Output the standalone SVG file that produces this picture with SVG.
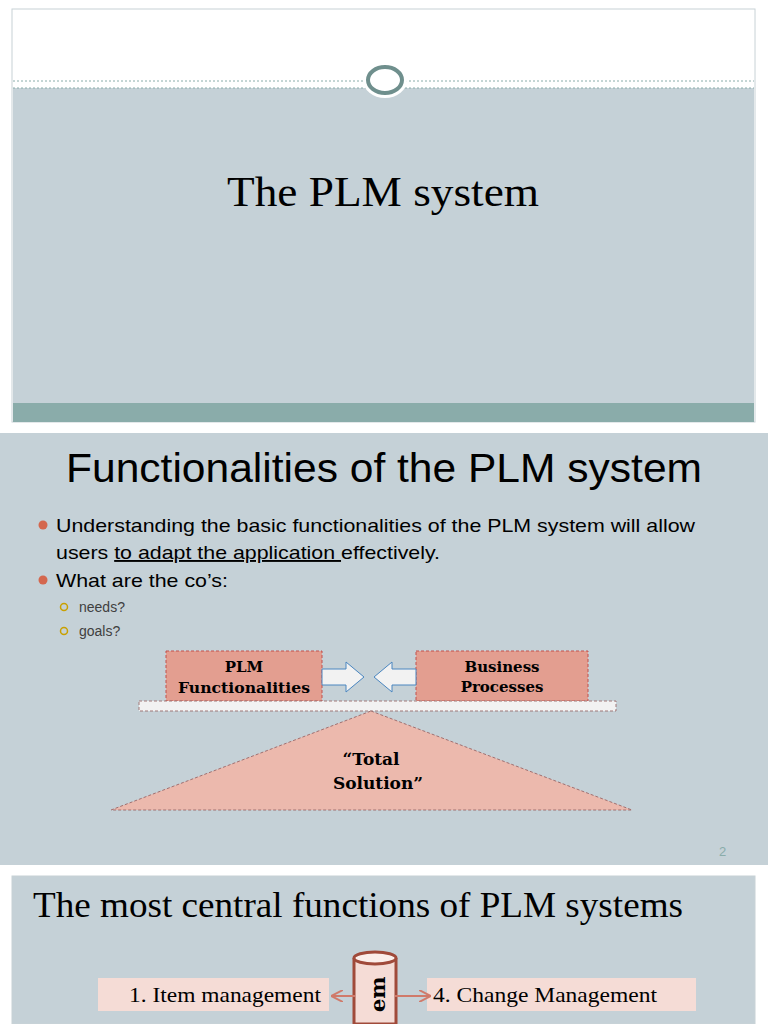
<svg xmlns="http://www.w3.org/2000/svg" width="768" height="1024" viewBox="0 0 768 1024">
<style>
.serif{font-family:"Liberation Serif",serif}
.sans{font-family:"Liberation Sans",Arial,sans-serif}
.bs{font-family:"DejaVu Serif","Liberation Serif",serif;font-weight:bold}
.box{fill:#e39e90;stroke:#c0504d;stroke-dasharray:3,2;stroke-width:1}
</style>
<defs>
<marker id="ah" markerWidth="6" markerHeight="6" refX="5" refY="3" orient="auto"><path d="M0,0L6,3L0,6" fill="none" stroke="#d07a6a"/></marker>
</defs>
<rect width="768" height="1024" fill="#ffffff"/>
<g id="slide1">
<rect x="12" y="9" width="743" height="413" fill="#ffffff" stroke="#c8d2d6"/>
<rect x="13" y="88" width="741" height="316" fill="#c5d1d7"/>
<line x1="13" y1="81" x2="754" y2="81" stroke="#8aacaa" stroke-dasharray="2,2"/>
<line x1="13" y1="88" x2="754" y2="88" stroke="#8aacaa" stroke-dasharray="2,2"/>
<rect x="13" y="403" width="741" height="19" fill="#8aacaa"/>
<ellipse cx="385" cy="80" rx="22" ry="18" fill="#ffffff"/>
<ellipse cx="385" cy="80" rx="17" ry="13" fill="none" stroke="#6f8f8d" stroke-width="4"/>
<text x="227" y="206" class="serif" font-size="42" textLength="312" lengthAdjust="spacingAndGlyphs">The PLM system</text>
</g>
<g id="slide2">
<rect x="0" y="433" width="768" height="432" fill="#c5d1d7"/>
<text x="66" y="482" class="sans" font-size="40" textLength="636" lengthAdjust="spacingAndGlyphs">Functionalities of the PLM system</text>
<circle cx="43" cy="525" r="4.5" fill="#d4674e"/>
<text x="56" y="532" class="sans" font-size="19" textLength="639" lengthAdjust="spacingAndGlyphs">Understanding the basic functionalities of the PLM system will allow</text>
<text x="56" y="559" class="sans" font-size="19" textLength="384" lengthAdjust="spacingAndGlyphs">users <tspan text-decoration="underline">to adapt the application </tspan>effectively.</text>
<circle cx="43" cy="580" r="4.5" fill="#d4674e"/>
<text x="56" y="587" class="sans" font-size="19" textLength="172" lengthAdjust="spacingAndGlyphs">What are the co’s:</text>
<circle cx="64" cy="607" r="3.5" fill="none" stroke="#c9a000" stroke-width="1.5"/>
<text x="79" y="612" class="sans" font-size="14" fill="#404040">needs?</text>
<circle cx="64" cy="631" r="3.5" fill="none" stroke="#c9a000" stroke-width="1.5"/>
<text x="79" y="636" class="sans" font-size="14" fill="#404040">goals?</text>
<text x="719" y="856" class="sans" font-size="13" fill="#8aacaa">2</text>
</g>
<g id="plm-func">
<rect x="166" y="651" width="156" height="50" class="box"/>
<text x="244" y="672" text-anchor="middle" class="bs" font-size="15">PLM</text>
<text x="244" y="693" text-anchor="middle" class="bs" font-size="15" textLength="132" lengthAdjust="spacingAndGlyphs">Functionalities</text>
</g>
<g id="business">
<rect x="416" y="651" width="172" height="50" class="box"/>
<text x="502" y="672" text-anchor="middle" class="bs" font-size="15">Business</text>
<text x="502" y="692" text-anchor="middle" class="bs" font-size="15">Processes</text>
</g>
<g id="beam">
<rect x="139" y="701" width="477" height="10" fill="#f2f2f2" stroke="#a07878" stroke-dasharray="3,2"/>
</g>
<g id="total">
<polygon points="371,711 632,810 111,810" fill="#ecb9ad" stroke="#a07070" stroke-dasharray="3,2"/>
<text x="371" y="765" text-anchor="middle" class="bs" font-size="17">“Total</text>
<text x="378" y="789" text-anchor="middle" class="bs" font-size="17">Solution”</text>
</g>
<g id="slide3">
<rect x="12" y="876" width="743" height="148" fill="#c5d1d7" stroke="#c8d2d6"/>
<text x="33" y="917" class="serif" font-size="36" textLength="650" lengthAdjust="spacingAndGlyphs">The most central functions of PLM systems</text>
</g>
<g id="item-mgmt">
<rect x="98" y="978" width="231" height="33" fill="#f5dcd6"/>
<text x="129" y="1002" class="serif" font-size="21" textLength="192" lengthAdjust="spacingAndGlyphs">1. Item management</text>
</g>
<g id="change-mgmt">
<rect x="427" y="978" width="269" height="33" fill="#f5dcd6"/>
<text x="433" y="1002" class="serif" font-size="21" textLength="224" lengthAdjust="spacingAndGlyphs">4. Change Management</text>
</g>
<g id="cylinder">
<path d="M354,958 V1024 H396 V958" fill="#f5dcd6" stroke="#a04a3a" stroke-width="3"/>
<ellipse cx="375" cy="958" rx="21" ry="6" fill="#fbeeea" stroke="#a04a3a" stroke-width="3"/>
<text transform="translate(385,1012) rotate(-90)" class="bs" font-size="21">em</text>
</g>
<g id="connectors">
<path d="M322,669 H346 V662 L364,677 L346,692 V685 H322 Z" fill="#f2f2f2" stroke="#4a86c0"/>
<path d="M416,669 H392 V662 L374,677 L392,692 V685 H416 Z" fill="#f2f2f2" stroke="#4a86c0"/>
<line x1="355" y1="996" x2="333" y2="996" stroke="#d07a6a" stroke-width="2" marker-end="url(#ah)"/>
<line x1="395" y1="996" x2="429" y2="996" stroke="#d07a6a" stroke-width="2" marker-end="url(#ah)"/>
</g>
</svg>
